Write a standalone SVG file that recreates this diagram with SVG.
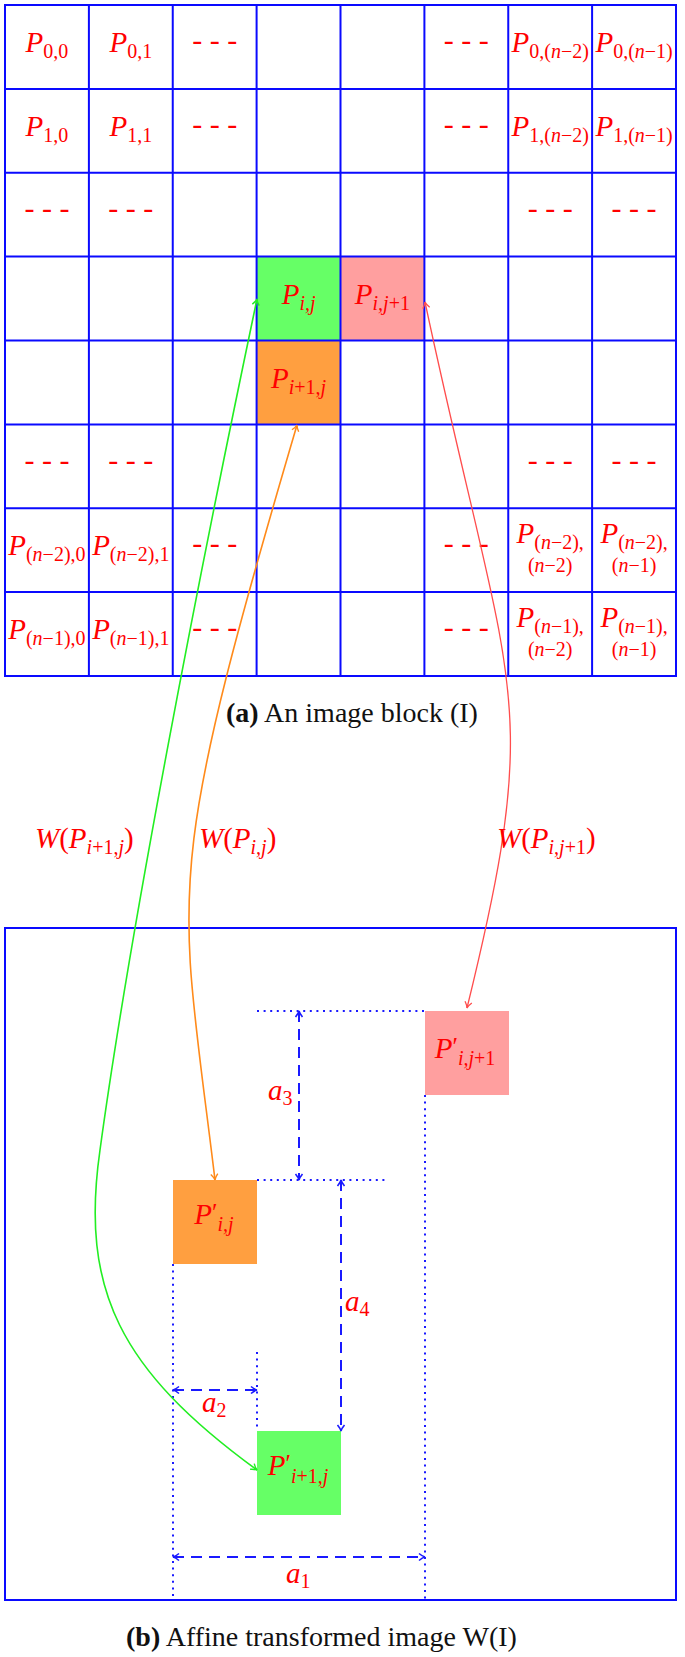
<svg xmlns="http://www.w3.org/2000/svg" width="685" height="1657" viewBox="0 0 685 1657">
<style>
.gl{stroke:#0a0aff;stroke-width:2;fill:none}
.lbl{font-family:"Liberation Serif","Times New Roman",serif;font-size:29px;fill:#ff0000}
.mid{text-anchor:middle}
.it{font-style:italic}
.sub{font-size:20px}
.pr{font-size:25px}
.dsh{font-family:"Liberation Serif","Times New Roman",serif;font-size:30px;fill:#ff0000;text-anchor:middle}
.cap{font-family:"Liberation Serif","Times New Roman",serif;font-size:28px;fill:#111}
.b{font-weight:bold}
.dot{stroke:#1a1aff;stroke-width:2;stroke-dasharray:2 4.6;fill:none}
.dim{stroke:#1a1aff;stroke-width:2;stroke-dasharray:11 7;fill:none}
.cg{stroke:#22ee22;stroke-width:1.6;fill:none}
.co{stroke:#ff8a1a;stroke-width:1.6;fill:none}
.cr{stroke:#ff4d4d;stroke-width:1.3;fill:none}
</style>
<defs>
<marker id="mg" markerUnits="userSpaceOnUse" markerWidth="12" markerHeight="12" refX="0" refY="0" viewBox="-8 -6 10 12" orient="auto-start-reverse"><path d="M-6,-3.5 Q-2.5,-0.6 0,0 Q-2.5,0.6 -6,3.5" fill="none" stroke="#22ee22" stroke-width="1.4"/></marker>
<marker id="mo" markerUnits="userSpaceOnUse" markerWidth="12" markerHeight="12" refX="0" refY="0" viewBox="-8 -6 10 12" orient="auto-start-reverse"><path d="M-6,-3.5 Q-2.5,-0.6 0,0 Q-2.5,0.6 -6,3.5" fill="none" stroke="#ff8a1a" stroke-width="1.4"/></marker>
<marker id="mr" markerUnits="userSpaceOnUse" markerWidth="12" markerHeight="12" refX="0" refY="0" viewBox="-8 -6 10 12" orient="auto-start-reverse"><path d="M-6,-3.5 Q-2.5,-0.6 0,0 Q-2.5,0.6 -6,3.5" fill="none" stroke="#ff4d4d" stroke-width="1.3"/></marker>
<marker id="mb" markerUnits="userSpaceOnUse" markerWidth="12" markerHeight="12" refX="0" refY="0" viewBox="-8 -6 10 12" orient="auto-start-reverse"><path d="M-6,-3.5 Q-2.5,-0.6 0,0 Q-2.5,0.6 -6,3.5" fill="none" stroke="#1a1aff" stroke-width="1.6" stroke-dasharray="none"/></marker>
</defs>
<rect width="685" height="1657" fill="#fff"/>

<g id="image-block">
  <rect id="cell-pij" x="256.6" y="256.6" width="83.9" height="83.9" fill="#66ff66"/>
  <rect id="cell-pij1" x="340.5" y="256.6" width="83.9" height="83.9" fill="#ff9f9f"/>
  <rect id="cell-pi1j" x="256.6" y="340.5" width="83.9" height="83.9" fill="#ff9f40"/>
  <g id="grid" class="gl">
    <line x1="5" y1="5" x2="5" y2="676"/><line x1="88.9" y1="5" x2="88.9" y2="676"/><line x1="172.75" y1="5" x2="172.75" y2="676"/><line x1="256.6" y1="5" x2="256.6" y2="676"/><line x1="340.5" y1="5" x2="340.5" y2="676"/><line x1="424.4" y1="5" x2="424.4" y2="676"/><line x1="508.25" y1="5" x2="508.25" y2="676"/><line x1="592.1" y1="5" x2="592.1" y2="676"/><line x1="676" y1="5" x2="676" y2="676"/>
    <line x1="4" y1="5" x2="677" y2="5"/><line x1="4" y1="88.9" x2="677" y2="88.9"/><line x1="4" y1="172.75" x2="677" y2="172.75"/><line x1="4" y1="256.6" x2="677" y2="256.6"/><line x1="4" y1="340.5" x2="677" y2="340.5"/><line x1="4" y1="424.4" x2="677" y2="424.4"/><line x1="4" y1="508.25" x2="677" y2="508.25"/><line x1="4" y1="592.1" x2="677" y2="592.1"/><line x1="4" y1="676" x2="677" y2="676"/>
  </g>
  <g id="cell-labels">
    <text class="lbl mid" x="46.9" y="52"><tspan class="it">P</tspan><tspan class="sub" dy="6">0,0</tspan></text>
    <text class="lbl mid" x="130.8" y="52"><tspan class="it">P</tspan><tspan class="sub" dy="6">0,1</tspan></text>
    <text class="dsh" x="214.7" y="50">- - -</text>
    <text class="dsh" x="466.3" y="50">- - -</text>
    <text class="lbl mid" x="550.2" y="52"><tspan class="it">P</tspan><tspan class="sub" dy="6">0,(<tspan class="it">n</tspan>−2)</tspan></text>
    <text class="lbl mid" x="634.1" y="52"><tspan class="it">P</tspan><tspan class="sub" dy="6">0,(<tspan class="it">n</tspan>−1)</tspan></text>

    <text class="lbl mid" x="46.9" y="136"><tspan class="it">P</tspan><tspan class="sub" dy="6">1,0</tspan></text>
    <text class="lbl mid" x="130.8" y="136"><tspan class="it">P</tspan><tspan class="sub" dy="6">1,1</tspan></text>
    <text class="dsh" x="214.7" y="134">- - -</text>
    <text class="dsh" x="466.3" y="134">- - -</text>
    <text class="lbl mid" x="550.2" y="136"><tspan class="it">P</tspan><tspan class="sub" dy="6">1,(<tspan class="it">n</tspan>−2)</tspan></text>
    <text class="lbl mid" x="634.1" y="136"><tspan class="it">P</tspan><tspan class="sub" dy="6">1,(<tspan class="it">n</tspan>−1)</tspan></text>

    <text class="dsh" x="46.9" y="218">- - -</text>
    <text class="dsh" x="130.8" y="218">- - -</text>
    <text class="dsh" x="550.2" y="218">- - -</text>
    <text class="dsh" x="634.1" y="218">- - -</text>

    <text class="lbl mid" x="298.6" y="303.5"><tspan class="it">P</tspan><tspan class="sub it" dy="6">i,j</tspan></text>
    <text class="lbl mid" x="382.4" y="303.5"><tspan class="it">P</tspan><tspan class="sub" dy="6"><tspan class="it">i,j</tspan>+1</tspan></text>
    <text class="lbl mid" x="298.6" y="387.5"><tspan class="it">P</tspan><tspan class="sub" dy="6"><tspan class="it">i</tspan>+1,<tspan class="it">j</tspan></tspan></text>

    <text class="dsh" x="46.9" y="469.5">- - -</text>
    <text class="dsh" x="130.8" y="469.5">- - -</text>
    <text class="dsh" x="550.2" y="469.5">- - -</text>
    <text class="dsh" x="634.1" y="469.5">- - -</text>

    <text class="lbl mid" x="46.9" y="555"><tspan class="it">P</tspan><tspan class="sub" dy="6">(<tspan class="it">n</tspan>−2),0</tspan></text>
    <text class="lbl mid" x="130.8" y="555"><tspan class="it">P</tspan><tspan class="sub" dy="6">(<tspan class="it">n</tspan>−2),1</tspan></text>
    <text class="dsh" x="214.7" y="553">- - -</text>
    <text class="dsh" x="466.3" y="553">- - -</text>
    <text class="lbl mid" x="550.2" y="543"><tspan class="it">P</tspan><tspan class="sub" dy="6">(<tspan class="it">n</tspan>−2),</tspan></text>
    <text class="lbl mid sub" x="550.2" y="572">(<tspan class="it">n</tspan>−2)</text>
    <text class="lbl mid" x="634.1" y="543"><tspan class="it">P</tspan><tspan class="sub" dy="6">(<tspan class="it">n</tspan>−2),</tspan></text>
    <text class="lbl mid sub" x="634.1" y="572">(<tspan class="it">n</tspan>−1)</text>

    <text class="lbl mid" x="46.9" y="639"><tspan class="it">P</tspan><tspan class="sub" dy="6">(<tspan class="it">n</tspan>−1),0</tspan></text>
    <text class="lbl mid" x="130.8" y="639"><tspan class="it">P</tspan><tspan class="sub" dy="6">(<tspan class="it">n</tspan>−1),1</tspan></text>
    <text class="dsh" x="214.7" y="637">- - -</text>
    <text class="dsh" x="466.3" y="637">- - -</text>
    <text class="lbl mid" x="550.2" y="627"><tspan class="it">P</tspan><tspan class="sub" dy="6">(<tspan class="it">n</tspan>−1),</tspan></text>
    <text class="lbl mid sub" x="550.2" y="656">(<tspan class="it">n</tspan>−2)</text>
    <text class="lbl mid" x="634.1" y="627"><tspan class="it">P</tspan><tspan class="sub" dy="6">(<tspan class="it">n</tspan>−1),</tspan></text>
    <text class="lbl mid sub" x="634.1" y="656">(<tspan class="it">n</tspan>−1)</text>
  </g>
</g>

<g id="caption-a"><text class="cap" x="226" y="722"><tspan class="b">(a)</tspan> An image block (I)</text></g>

<g id="transformed-image">
  <rect id="frame-b" x="5" y="928" width="671" height="672" class="gl"/>
  <g id="box-pij1"><rect x="425" y="1011" width="84" height="84" fill="#ff9f9f"/>
    <text class="lbl mid" x="465" y="1058"><tspan class="it">P</tspan><tspan class="pr" dy="-3">′</tspan><tspan class="sub" dy="10"><tspan class="it">i,j</tspan>+1</tspan></text></g>
  <g id="box-pij"><rect x="173" y="1180" width="84" height="84" fill="#ff9f40"/>
    <text class="lbl mid" x="214" y="1224"><tspan class="it">P</tspan><tspan class="pr" dy="-3">′</tspan><tspan class="sub it" dy="10">i,j</tspan></text></g>
  <g id="box-pi1j"><rect x="257" y="1431" width="84" height="84" fill="#66ff66"/>
    <text class="lbl mid" x="298" y="1475"><tspan class="it">P</tspan><tspan class="pr" dy="-3">′</tspan><tspan class="sub" dy="11"><tspan class="it">i</tspan>+1,<tspan class="it">j</tspan></tspan></text></g>
</g>

<g id="guides">
  <line class="dot" x1="257" y1="1011" x2="425" y2="1011"/>
  <line class="dot" x1="257" y1="1180" x2="385" y2="1180"/>
  <line class="dot" x1="425" y1="1095" x2="425" y2="1600"/>
  <line class="dot" x1="173" y1="1264" x2="173" y2="1600"/>
  <line class="dot" x1="257" y1="1352" x2="257" y2="1431"/>
</g>

<g id="dimensions">
  <line class="dim" x1="299" y1="1011" x2="299" y2="1180" marker-start="url(#mb)" marker-end="url(#mb)"/>
  <line class="dim" x1="341" y1="1180" x2="341" y2="1431" marker-start="url(#mb)" marker-end="url(#mb)"/>
  <line class="dim" x1="173" y1="1390" x2="257" y2="1390" marker-start="url(#mb)" marker-end="url(#mb)"/>
  <line class="dim" x1="173" y1="1557" x2="425" y2="1557" marker-start="url(#mb)" marker-end="url(#mb)"/>
  <text class="lbl" x="268" y="1100"><tspan class="it">a</tspan><tspan class="sub" dy="5">3</tspan></text>
  <text class="lbl" x="345" y="1311"><tspan class="it">a</tspan><tspan class="sub" dy="5">4</tspan></text>
  <text class="lbl" x="202" y="1412"><tspan class="it">a</tspan><tspan class="sub" dy="5">2</tspan></text>
  <text class="lbl" x="286" y="1583"><tspan class="it">a</tspan><tspan class="sub" dy="5">1</tspan></text>
</g>

<g id="connectors">
  <path class="cg" d="M257,299 C200,570 130,930 100,1150 C80,1290 120,1370 257,1470" marker-start="url(#mg)" marker-end="url(#mg)"/>
  <path class="co" d="M297,425 C160,890 179,882 215,1180" marker-start="url(#mo)" marker-end="url(#mo)"/>
  <path class="cr" d="M425,302 C510,700 545,690 467,1008" marker-start="url(#mr)" marker-end="url(#mr)"/>
  <text class="lbl" x="35" y="848"><tspan class="it">W</tspan>(<tspan class="it">P</tspan><tspan class="sub" dy="6"><tspan class="it">i</tspan>+1,<tspan class="it">j</tspan></tspan><tspan dy="-6">)</tspan></text>
  <text class="lbl" x="199" y="848"><tspan class="it">W</tspan>(<tspan class="it">P</tspan><tspan class="sub it" dy="6">i,j</tspan><tspan dy="-6">)</tspan></text>
  <text class="lbl" x="497" y="848"><tspan class="it">W</tspan>(<tspan class="it">P</tspan><tspan class="sub" dy="6"><tspan class="it">i,j</tspan>+1</tspan><tspan dy="-6">)</tspan></text>
</g>

<g id="caption-b"><text class="cap" x="126" y="1646" font-size="30"><tspan class="b">(b)</tspan> Affine transformed image W(I)</text></g>
</svg>
